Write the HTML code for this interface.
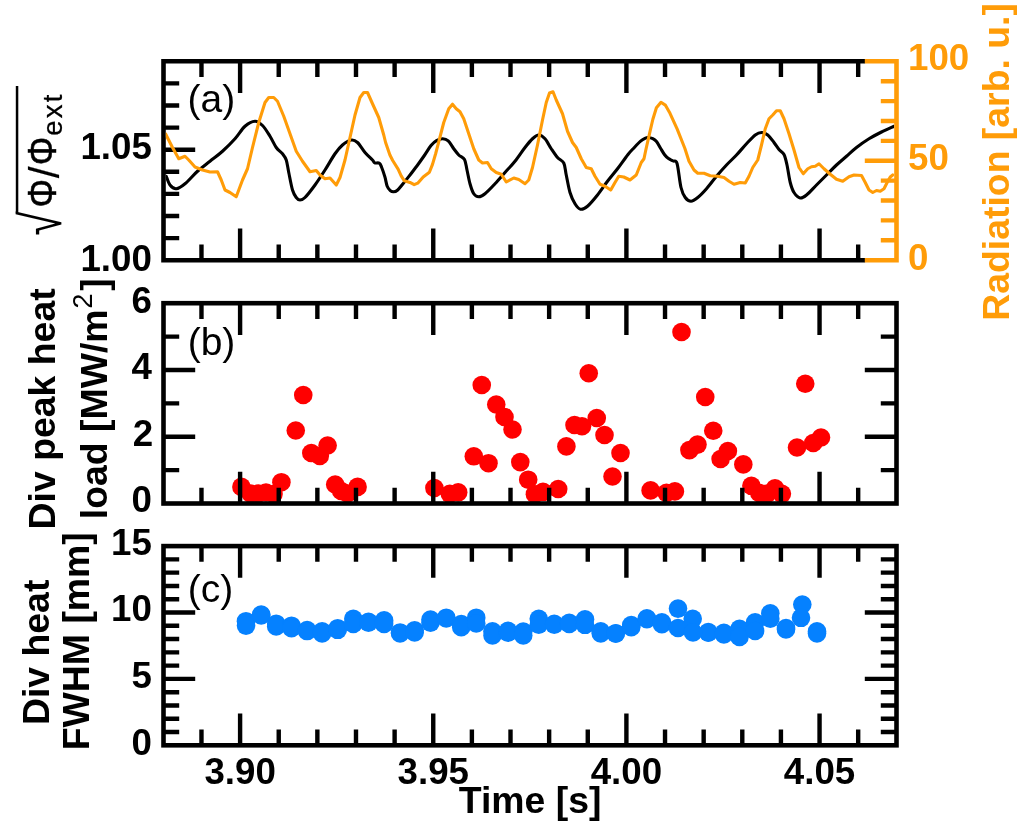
<!DOCTYPE html>
<html lang="en"><head><meta charset="utf-8"><title>Figure</title>
<style>html,body{margin:0;padding:0;background:#fff;overflow:hidden}svg{display:block}text{font-family:"Liberation Sans",Arial,sans-serif}.b{font-weight:bold;font-size:36.7px}.pl{font-size:40px}.pa{font-size:39px}.t{font-weight:bold;font-size:37.4px}</style></head><body>
<svg width="1025" height="831" viewBox="0 0 1025 831">
<rect width="1025" height="831" fill="#fff"/>
<clipPath id="ca"><rect x="165.80" y="61.30" width="728.40" height="198.90"/></clipPath>
<path d="M201.47 61.30v15.70M201.47 260.20v-15.70M240.10 61.30v31.70M240.10 260.20v-31.70M278.73 61.30v15.70M278.73 260.20v-15.70M317.36 61.30v15.70M317.36 260.20v-15.70M355.99 61.30v15.70M355.99 260.20v-15.70M394.62 61.30v15.70M394.62 260.20v-15.70M433.25 61.30v31.70M433.25 260.20v-31.70M471.88 61.30v15.70M471.88 260.20v-15.70M510.51 61.30v15.70M510.51 260.20v-15.70M549.14 61.30v15.70M549.14 260.20v-15.70M587.77 61.30v15.70M587.77 260.20v-15.70M626.40 61.30v31.70M626.40 260.20v-31.70M665.03 61.30v15.70M665.03 260.20v-15.70M703.66 61.30v15.70M703.66 260.20v-15.70M742.29 61.30v15.70M742.29 260.20v-15.70M780.92 61.30v15.70M780.92 260.20v-15.70M819.55 61.30v31.70M819.55 260.20v-31.70M858.18 61.30v15.70M858.18 260.20v-15.70" stroke="#000" stroke-width="4.4" fill="none"/>
<path d="M163.50 238.10h15.70M163.50 216.00h15.70M163.50 193.90h15.70M163.50 171.80h15.70M163.50 149.70h31.70M163.50 127.60h15.70M163.50 105.50h15.70M163.50 83.40h15.70" stroke="#000" stroke-width="4.4" fill="none"/>
<path d="M865.10 61.30H163.50V260.20H865.10" fill="none" stroke="#000" stroke-width="4.6" stroke-linejoin="miter"/>
<g clip-path="url(#ca)" fill="none" stroke-linejoin="round" stroke-linecap="round">
<path d="M166.25 176.25 C166.88 177.71 168.33 182.92 170.00 185.00 C171.67 187.08 173.75 188.96 176.25 188.75 C178.75 188.54 181.46 186.67 185.00 183.75 C188.54 180.83 193.33 175.00 197.50 171.25 C201.67 167.50 205.83 164.58 210.00 161.25 C214.17 157.92 218.33 155.00 222.50 151.25 C226.67 147.50 231.25 142.92 235.00 138.75 C238.75 134.58 241.67 129.17 245.00 126.25 C248.33 123.33 252.08 121.38 255.00 121.25 C257.92 121.12 260.00 123.00 262.50 125.50 C265.00 128.00 267.71 132.58 270.00 136.25 C272.29 139.92 274.17 144.58 276.25 147.50 C278.33 150.42 280.83 151.67 282.50 153.75 C284.17 155.83 285.21 156.88 286.25 160.00 C287.29 163.12 287.71 167.50 288.75 172.50 C289.79 177.50 291.25 185.83 292.50 190.00 C293.75 194.17 295.00 195.83 296.25 197.50 C297.50 199.17 298.54 200.00 300.00 200.00 C301.46 200.00 302.50 200.00 305.00 197.50 C307.50 195.00 311.67 189.58 315.00 185.00 C318.33 180.42 321.67 175.21 325.00 170.00 C328.33 164.79 332.08 157.92 335.00 153.75 C337.92 149.58 339.79 147.29 342.50 145.00 C345.21 142.71 348.75 140.42 351.25 140.00 C353.75 139.58 355.21 140.42 357.50 142.50 C359.79 144.58 362.50 149.58 365.00 152.50 C367.50 155.42 370.88 158.28 372.50 160.00 C374.12 161.72 373.55 162.27 374.70 162.80 C375.85 163.33 378.23 162.42 379.40 163.20 C380.57 163.98 380.78 165.22 381.70 167.50 C382.62 169.78 383.98 173.77 384.90 176.90 C385.82 180.03 386.30 184.02 387.20 186.30 C388.10 188.58 389.25 189.68 390.30 190.60 C391.35 191.52 392.32 191.87 393.50 191.80 C394.68 191.73 395.85 191.50 397.40 190.20 C398.95 188.90 400.85 186.35 402.80 184.00 C404.75 181.65 406.75 179.10 409.10 176.10 C411.45 173.10 414.30 169.52 416.90 166.00 C419.50 162.48 422.35 158.40 424.70 155.00 C427.05 151.60 429.03 148.00 431.00 145.60 C432.97 143.20 434.55 141.73 436.50 140.60 C438.45 139.47 440.75 138.75 442.70 138.80 C444.65 138.85 446.36 139.24 448.20 140.90 C450.04 142.56 451.99 146.40 453.75 148.75 C455.51 151.10 456.96 153.21 458.75 155.00 C460.54 156.79 463.12 157.00 464.50 159.50 C465.88 162.00 466.08 165.96 467.00 170.00 C467.92 174.04 468.88 179.79 470.00 183.75 C471.12 187.71 472.29 191.58 473.75 193.75 C475.21 195.92 476.88 196.75 478.75 196.75 C480.62 196.75 482.29 195.92 485.00 193.75 C487.71 191.58 491.67 187.29 495.00 183.75 C498.33 180.21 501.67 176.25 505.00 172.50 C508.33 168.75 511.67 165.42 515.00 161.25 C518.33 157.08 522.08 151.25 525.00 147.50 C527.92 143.75 530.21 140.83 532.50 138.75 C534.79 136.67 536.67 135.00 538.75 135.00 C540.83 135.00 542.92 136.46 545.00 138.75 C547.08 141.04 549.17 145.62 551.25 148.75 C553.33 151.88 555.42 155.12 557.50 157.50 C559.58 159.88 562.29 160.08 563.75 163.00 C565.21 165.92 565.21 170.08 566.25 175.00 C567.29 179.92 568.54 187.71 570.00 192.50 C571.46 197.29 573.25 200.96 575.00 203.75 C576.75 206.54 578.42 208.83 580.50 209.25 C582.58 209.67 584.67 208.62 587.50 206.25 C590.33 203.88 594.17 199.17 597.50 195.00 C600.83 190.83 604.17 185.62 607.50 181.25 C610.83 176.88 614.12 173.18 617.50 168.75 C620.88 164.32 625.03 158.21 627.80 154.70 C630.57 151.19 632.02 149.92 634.10 147.70 C636.18 145.48 638.48 142.97 640.30 141.40 C642.12 139.83 643.70 138.95 645.00 138.30 C646.30 137.65 646.80 137.43 648.10 137.50 C649.40 137.57 651.37 137.98 652.80 138.70 C654.23 139.42 655.38 140.17 656.70 141.80 C658.02 143.43 659.38 146.35 660.70 148.50 C662.02 150.65 663.30 153.02 664.60 154.70 C665.90 156.38 667.07 157.55 668.50 158.60 C669.93 159.65 671.77 160.15 673.20 161.00 C674.63 161.85 675.80 159.28 677.10 163.70 C678.40 168.12 679.64 181.87 681.00 187.50 C682.36 193.13 683.58 195.21 685.25 197.50 C686.92 199.79 688.92 201.25 691.00 201.25 C693.08 201.25 695.17 199.58 697.75 197.50 C700.33 195.42 703.38 192.29 706.50 188.75 C709.62 185.21 713.17 180.21 716.50 176.25 C719.83 172.29 723.17 168.54 726.50 165.00 C729.83 161.46 733.17 158.54 736.50 155.00 C739.83 151.46 743.38 147.08 746.50 143.75 C749.62 140.42 752.75 136.88 755.25 135.00 C757.75 133.12 759.42 132.50 761.50 132.50 C763.58 132.50 765.67 133.33 767.75 135.00 C769.83 136.67 772.12 140.08 774.00 142.50 C775.88 144.92 777.33 147.50 779.00 149.50 C780.67 151.50 782.67 151.92 784.00 154.50 C785.33 157.08 785.96 160.33 787.00 165.00 C788.04 169.67 789.08 177.92 790.25 182.50 C791.42 187.08 792.33 189.92 794.00 192.50 C795.67 195.08 798.17 197.58 800.25 198.00 C802.33 198.42 803.79 197.17 806.50 195.00 C809.21 192.83 813.17 188.33 816.50 185.00 C819.83 181.67 823.17 178.33 826.50 175.00 C829.83 171.67 833.17 168.12 836.50 165.00 C839.83 161.88 843.17 159.17 846.50 156.25 C849.83 153.33 852.75 150.42 856.50 147.50 C860.25 144.58 864.83 141.33 869.00 138.75 C873.17 136.17 877.33 134.08 881.50 132.00 C885.67 129.92 891.92 127.21 894.00 126.25" stroke="#000" stroke-width="3.1"/>
<path d="M165.50 133.75 L172.50 147.50 L178.75 158.75 L185.00 156.25 L188.75 160.00 L195.00 167.00 L202.50 170.00 L210.00 172.00 L217.50 171.75 L221.25 180.00 L225.00 190.00 L230.00 192.50 L236.25 196.75 L242.50 180.00 L247.50 168.75 L252.50 147.50 L258.75 122.50 L265.00 102.50 L268.75 97.50 L273.75 97.50 L277.50 101.25 L283.75 116.25 L290.00 133.75 L296.25 151.25 L302.50 161.25 L310.00 171.75 L316.25 170.50 L320.00 175.00 L325.00 178.75 L330.00 178.00 L336.25 185.00 L340.00 177.50 L345.00 160.00 L350.00 137.50 L355.00 115.00 L360.00 97.50 L363.75 92.50 L367.50 92.50 L372.50 103.75 L378.75 117.50 L383.75 135.00 L385.60 142.50 L389.90 155.00 L392.70 160.50 L398.10 169.10 L401.30 176.10 L404.40 180.80 L409.90 182.40 L414.20 184.70 L417.70 183.20 L423.20 176.90 L429.40 172.20 L432.50 164.40 L435.70 153.50 L438.80 141.70 L443.75 122.50 L448.75 108.75 L452.50 104.25 L456.25 108.75 L460.00 111.75 L463.75 118.75 L468.75 133.75 L473.75 148.75 L478.75 160.00 L482.50 163.00 L487.50 162.50 L491.25 168.75 L496.25 172.50 L501.25 174.25 L506.25 182.00 L513.75 178.00 L518.75 179.50 L525.00 183.75 L528.75 180.00 L532.50 167.50 L537.50 145.00 L542.50 120.00 L546.25 102.50 L549.50 93.00 L553.00 91.75 L556.25 100.00 L562.50 113.75 L567.50 131.25 L572.50 142.50 L576.25 147.50 L581.25 158.75 L586.25 167.50 L591.25 168.75 L595.00 176.25 L600.00 184.25 L605.00 186.25 L610.75 190.00 L615.00 182.50 L618.75 176.25 L623.75 177.00 L630.00 180.00 L636.25 175.00 L641.25 162.50 L644.00 158.75 L645.80 150.00 L649.70 132.80 L652.80 119.50 L656.40 107.80 L661.00 102.30 L665.30 105.10 L670.00 113.30 L677.10 128.90 L684.90 148.50 L689.00 161.25 L694.00 170.00 L697.75 173.25 L704.00 173.25 L710.25 175.75 L717.75 176.25 L724.00 177.50 L729.00 181.25 L734.00 184.25 L740.25 182.50 L745.25 183.00 L749.00 176.25 L752.75 167.50 L757.75 160.00 L761.50 145.00 L765.25 128.75 L769.00 118.75 L772.75 115.00 L776.50 110.75 L780.25 110.75 L784.00 118.75 L789.00 133.75 L794.00 150.00 L799.00 167.50 L803.25 173.75 L807.75 168.75 L811.50 166.75 L815.25 166.25 L819.00 163.75 L824.00 168.75 L830.25 174.25 L836.50 179.25 L842.75 181.25 L849.00 176.75 L854.00 175.00 L861.50 175.50 L865.25 182.50 L869.00 190.00 L872.75 192.50 L876.50 190.50 L880.25 191.25 L884.00 188.75 L887.75 181.25 L890.25 177.00 L892.75 175.00" stroke="#FF9C08" stroke-width="3.1"/>
</g>
<path d="M896.50 240.31h-15.70M896.50 220.42h-15.70M896.50 200.53h-15.70M896.50 180.64h-15.70M896.50 160.75h-31.70M896.50 140.86h-15.70M896.50 120.97h-15.70M896.50 101.08h-15.70M896.50 81.19h-15.70" stroke="#FF9C08" stroke-width="4.4" fill="none"/>
<path d="M864.80 61.30H896.50V260.20H864.80" fill="none" stroke="#FF9C08" stroke-width="4.6" stroke-linejoin="miter"/>
<g fill="#FF0000">
<circle cx="241.40" cy="486.90" r="9.3"/>
<circle cx="250.50" cy="493.50" r="9.3"/>
<circle cx="258.50" cy="493.50" r="9.3"/>
<circle cx="266.00" cy="492.50" r="9.3"/>
<circle cx="273.50" cy="494.00" r="9.3"/>
<circle cx="281.40" cy="482.20" r="9.3"/>
<circle cx="295.75" cy="430.50" r="9.3"/>
<circle cx="303.25" cy="395.00" r="9.3"/>
<circle cx="311.30" cy="453.00" r="9.3"/>
<circle cx="319.80" cy="456.00" r="9.3"/>
<circle cx="327.60" cy="445.50" r="9.3"/>
<circle cx="335.20" cy="484.50" r="9.3"/>
<circle cx="341.20" cy="491.00" r="9.3"/>
<circle cx="347.50" cy="493.50" r="9.3"/>
<circle cx="357.60" cy="486.90" r="9.3"/>
<circle cx="434.40" cy="488.00" r="9.3"/>
<circle cx="449.80" cy="493.80" r="9.3"/>
<circle cx="458.20" cy="492.40" r="9.3"/>
<circle cx="473.80" cy="456.30" r="9.3"/>
<circle cx="488.50" cy="463.20" r="9.3"/>
<circle cx="481.75" cy="385.00" r="9.3"/>
<circle cx="496.25" cy="404.50" r="9.3"/>
<circle cx="504.50" cy="417.00" r="9.3"/>
<circle cx="512.50" cy="429.50" r="9.3"/>
<circle cx="520.30" cy="462.10" r="9.3"/>
<circle cx="528.20" cy="479.70" r="9.3"/>
<circle cx="534.90" cy="494.20" r="9.3"/>
<circle cx="543.00" cy="491.80" r="9.3"/>
<circle cx="558.20" cy="489.00" r="9.3"/>
<circle cx="566.40" cy="446.40" r="9.3"/>
<circle cx="574.50" cy="425.00" r="9.3"/>
<circle cx="582.00" cy="426.25" r="9.3"/>
<circle cx="588.75" cy="373.25" r="9.3"/>
<circle cx="596.75" cy="418.00" r="9.3"/>
<circle cx="604.50" cy="435.00" r="9.3"/>
<circle cx="620.50" cy="453.00" r="9.3"/>
<circle cx="612.50" cy="476.50" r="9.3"/>
<circle cx="650.60" cy="490.40" r="9.3"/>
<circle cx="666.50" cy="492.80" r="9.3"/>
<circle cx="674.90" cy="491.40" r="9.3"/>
<circle cx="681.50" cy="332.00" r="9.3"/>
<circle cx="689.40" cy="450.10" r="9.3"/>
<circle cx="697.50" cy="444.60" r="9.3"/>
<circle cx="705.25" cy="397.00" r="9.3"/>
<circle cx="713.25" cy="430.75" r="9.3"/>
<circle cx="720.60" cy="459.00" r="9.3"/>
<circle cx="727.90" cy="451.00" r="9.3"/>
<circle cx="743.30" cy="464.40" r="9.3"/>
<circle cx="751.40" cy="485.80" r="9.3"/>
<circle cx="759.30" cy="493.00" r="9.3"/>
<circle cx="767.00" cy="493.80" r="9.3"/>
<circle cx="775.00" cy="488.40" r="9.3"/>
<circle cx="781.90" cy="493.80" r="9.3"/>
<circle cx="797.00" cy="447.50" r="9.3"/>
<circle cx="805.25" cy="383.75" r="9.3"/>
<circle cx="813.25" cy="443.00" r="9.3"/>
<circle cx="821.00" cy="437.50" r="9.3"/>
</g>
<path d="M201.47 303.20v15.70M201.47 503.50v-15.70M240.10 303.20v31.70M240.10 503.50v-31.70M278.73 303.20v15.70M278.73 503.50v-15.70M317.36 303.20v15.70M317.36 503.50v-15.70M355.99 303.20v15.70M355.99 503.50v-15.70M394.62 303.20v15.70M394.62 503.50v-15.70M433.25 303.20v31.70M433.25 503.50v-31.70M471.88 303.20v15.70M471.88 503.50v-15.70M510.51 303.20v15.70M510.51 503.50v-15.70M549.14 303.20v15.70M549.14 503.50v-15.70M587.77 303.20v15.70M587.77 503.50v-15.70M626.40 303.20v31.70M626.40 503.50v-31.70M665.03 303.20v15.70M665.03 503.50v-15.70M703.66 303.20v15.70M703.66 503.50v-15.70M742.29 303.20v15.70M742.29 503.50v-15.70M780.92 303.20v15.70M780.92 503.50v-15.70M819.55 303.20v31.70M819.55 503.50v-31.70M858.18 303.20v15.70M858.18 503.50v-15.70" stroke="#000" stroke-width="4.4" fill="none"/>
<path d="M163.50 470.12h15.70M896.50 470.12h-15.70M163.50 436.73h31.70M896.50 436.73h-31.70M163.50 403.35h15.70M896.50 403.35h-15.70M163.50 369.97h31.70M896.50 369.97h-31.70M163.50 336.58h15.70M896.50 336.58h-15.70" stroke="#000" stroke-width="4.4" fill="none"/>
<rect x="163.50" y="303.20" width="733.00" height="200.30" fill="none" stroke="#000" stroke-width="4.6"/>
<g fill="#0581FF">
<circle cx="246.00" cy="621.20" r="9.3"/>
<circle cx="246.00" cy="625.60" r="9.3"/>
<circle cx="261.20" cy="614.55" r="9.3"/>
<circle cx="261.20" cy="615.45" r="9.3"/>
<circle cx="276.20" cy="623.70" r="9.3"/>
<circle cx="276.20" cy="626.50" r="9.3"/>
<circle cx="291.50" cy="625.70" r="9.3"/>
<circle cx="291.50" cy="628.10" r="9.3"/>
<circle cx="307.10" cy="630.15" r="9.3"/>
<circle cx="307.10" cy="631.05" r="9.3"/>
<circle cx="322.10" cy="631.40" r="9.3"/>
<circle cx="322.10" cy="633.40" r="9.3"/>
<circle cx="337.70" cy="628.20" r="9.3"/>
<circle cx="337.70" cy="629.80" r="9.3"/>
<circle cx="353.30" cy="618.80" r="9.3"/>
<circle cx="353.30" cy="624.00" r="9.3"/>
<circle cx="368.50" cy="621.75" r="9.3"/>
<circle cx="368.50" cy="622.65" r="9.3"/>
<circle cx="384.10" cy="620.40" r="9.3"/>
<circle cx="384.10" cy="624.00" r="9.3"/>
<circle cx="400.10" cy="632.45" r="9.3"/>
<circle cx="400.10" cy="633.35" r="9.3"/>
<circle cx="414.60" cy="630.40" r="9.3"/>
<circle cx="414.60" cy="632.40" r="9.3"/>
<circle cx="430.50" cy="619.50" r="9.3"/>
<circle cx="430.50" cy="622.70" r="9.3"/>
<circle cx="446.25" cy="617.70" r="9.3"/>
<circle cx="446.25" cy="618.50" r="9.3"/>
<circle cx="461.25" cy="624.00" r="9.3"/>
<circle cx="461.25" cy="627.20" r="9.3"/>
<circle cx="476.25" cy="617.70" r="9.3"/>
<circle cx="476.25" cy="623.50" r="9.3"/>
<circle cx="492.50" cy="631.30" r="9.3"/>
<circle cx="492.50" cy="635.50" r="9.3"/>
<circle cx="508.00" cy="630.75" r="9.3"/>
<circle cx="508.00" cy="632.75" r="9.3"/>
<circle cx="523.25" cy="631.50" r="9.3"/>
<circle cx="523.25" cy="635.50" r="9.3"/>
<circle cx="538.75" cy="618.75" r="9.3"/>
<circle cx="538.75" cy="624.75" r="9.3"/>
<circle cx="554.25" cy="623.75" r="9.3"/>
<circle cx="554.25" cy="624.75" r="9.3"/>
<circle cx="569.25" cy="622.80" r="9.3"/>
<circle cx="569.25" cy="624.00" r="9.3"/>
<circle cx="585.00" cy="619.40" r="9.3"/>
<circle cx="585.00" cy="624.80" r="9.3"/>
<circle cx="600.75" cy="631.30" r="9.3"/>
<circle cx="600.75" cy="633.50" r="9.3"/>
<circle cx="615.75" cy="633.20" r="9.3"/>
<circle cx="615.75" cy="633.60" r="9.3"/>
<circle cx="631.25" cy="625.00" r="9.3"/>
<circle cx="631.25" cy="627.20" r="9.3"/>
<circle cx="646.90" cy="618.40" r="9.3"/>
<circle cx="646.90" cy="619.20" r="9.3"/>
<circle cx="661.90" cy="622.30" r="9.3"/>
<circle cx="661.90" cy="624.10" r="9.3"/>
<circle cx="708.30" cy="632.10" r="9.3"/>
<circle cx="708.30" cy="632.70" r="9.3"/>
<circle cx="723.90" cy="632.80" r="9.3"/>
<circle cx="723.90" cy="634.40" r="9.3"/>
<circle cx="739.50" cy="628.90" r="9.3"/>
<circle cx="739.50" cy="636.90" r="9.3"/>
<circle cx="755.10" cy="622.40" r="9.3"/>
<circle cx="755.10" cy="631.00" r="9.3"/>
<circle cx="770.30" cy="613.30" r="9.3"/>
<circle cx="770.30" cy="618.70" r="9.3"/>
<circle cx="786.00" cy="628.10" r="9.3"/>
<circle cx="786.00" cy="629.50" r="9.3"/>
<circle cx="817.00" cy="631.40" r="9.3"/>
<circle cx="817.00" cy="633.40" r="9.3"/>
<circle cx="678.00" cy="608.60" r="9.3"/>
<circle cx="678.00" cy="628.00" r="9.3"/>
<circle cx="692.70" cy="618.80" r="9.3"/>
<circle cx="693.00" cy="632.40" r="9.3"/>
<circle cx="802.30" cy="604.50" r="9.3"/>
<circle cx="801.00" cy="617.80" r="9.3"/>
</g>
<path d="M201.47 546.10v15.70M201.47 745.30v-15.70M240.10 546.10v31.70M240.10 745.30v-31.70M278.73 546.10v15.70M278.73 745.30v-15.70M317.36 546.10v15.70M317.36 745.30v-15.70M355.99 546.10v15.70M355.99 745.30v-15.70M394.62 546.10v15.70M394.62 745.30v-15.70M433.25 546.10v31.70M433.25 745.30v-31.70M471.88 546.10v15.70M471.88 745.30v-15.70M510.51 546.10v15.70M510.51 745.30v-15.70M549.14 546.10v15.70M549.14 745.30v-15.70M587.77 546.10v15.70M587.77 745.30v-15.70M626.40 546.10v31.70M626.40 745.30v-31.70M665.03 546.10v15.70M665.03 745.30v-15.70M703.66 546.10v15.70M703.66 745.30v-15.70M742.29 546.10v15.70M742.29 745.30v-15.70M780.92 546.10v15.70M780.92 745.30v-15.70M819.55 546.10v31.70M819.55 745.30v-31.70M858.18 546.10v15.70M858.18 745.30v-15.70" stroke="#000" stroke-width="4.4" fill="none"/>
<path d="M163.50 732.02h15.70M896.50 732.02h-15.70M163.50 718.74h15.70M896.50 718.74h-15.70M163.50 705.46h15.70M896.50 705.46h-15.70M163.50 692.18h15.70M896.50 692.18h-15.70M163.50 678.90h31.70M896.50 678.90h-31.70M163.50 665.62h15.70M896.50 665.62h-15.70M163.50 652.34h15.70M896.50 652.34h-15.70M163.50 639.06h15.70M896.50 639.06h-15.70M163.50 625.78h15.70M896.50 625.78h-15.70M163.50 612.50h31.70M896.50 612.50h-31.70M163.50 599.22h15.70M896.50 599.22h-15.70M163.50 585.94h15.70M896.50 585.94h-15.70M163.50 572.66h15.70M896.50 572.66h-15.70M163.50 559.38h15.70M896.50 559.38h-15.70" stroke="#000" stroke-width="4.4" fill="none"/>
<rect x="163.50" y="546.10" width="733.00" height="199.20" fill="none" stroke="#000" stroke-width="4.6"/>
<text class="b" transform="translate(151.80 158.70) scale(1 1.02)" text-anchor="end">1.05</text>
<text class="b" transform="translate(151.80 271.00) scale(1 1.02)" text-anchor="end">1.00</text>
<text class="b" transform="translate(151.80 512.20) scale(1 1.02)" text-anchor="end">0</text>
<text class="b" transform="translate(153.20 445.73) scale(1 1.02)" text-anchor="end">2</text>
<text class="b" transform="translate(151.80 379.27) scale(1 1.02)" text-anchor="end">4</text>
<text class="b" transform="translate(151.80 313.20) scale(1 1.02)" text-anchor="end">6</text>
<text class="b" transform="translate(151.80 755.10) scale(1 1.02)" text-anchor="end">0</text>
<text class="b" transform="translate(151.80 688.10) scale(1 1.02)" text-anchor="end">5</text>
<text class="b" transform="translate(151.80 621.30) scale(1 1.02)" text-anchor="end">10</text>
<text class="b" transform="translate(151.80 554.80) scale(1 1.02)" text-anchor="end">15</text>
<text class="b" transform="translate(908 270.20) scale(1 1.02)" fill="#FF9C08">0</text>
<text class="b" transform="translate(908 169.95) scale(1 1.02)" fill="#FF9C08">50</text>
<text class="b" transform="translate(908 70.00) scale(1 1.02)" fill="#FF9C08">100</text>
<text class="b" transform="translate(240.10 783.7) scale(1 1.02)" text-anchor="middle">3.90</text>
<text class="b" transform="translate(433.25 783.7) scale(1 1.02)" text-anchor="middle">3.95</text>
<text class="b" transform="translate(626.40 783.7) scale(1 1.02)" text-anchor="middle">4.00</text>
<text class="b" transform="translate(819.55 783.7) scale(1 1.02)" text-anchor="middle">4.05</text>
<text class="t" x="530.10" y="812.5" text-anchor="middle">Time [s]</text>
<text class="pa" x="187.5" y="111.7">(a)</text>
<text class="pa" x="187.7" y="354.8">(b)</text>
<text class="pa" x="187.7" y="602.1">(c)</text>
<text class="t" transform="translate(1009.00 161.95) rotate(-90)" text-anchor="middle" fill="#FF9C08">Radiation [arb. u.]</text>
<text class="t" transform="translate(55.00 408.90) rotate(-90)" text-anchor="middle" >Div peak heat</text>
<text class="t" transform="translate(106.90 398.75) rotate(-90)" text-anchor="middle" >load [MW/m<tspan dy="-15.3" dx="0.7" font-size="27.5" font-weight="normal">2</tspan><tspan dy="15.3" dx="2.6">]</tspan></text>
<text class="t" transform="translate(48.50 652.35) rotate(-90)" text-anchor="middle" >Div heat</text>
<text class="t" transform="translate(89.00 641.25) rotate(-90)" text-anchor="middle" >FWHM [mm]</text>
<text transform="translate(56.1 0) rotate(-90)" font-size="40.4" stroke="#000" stroke-width="0.45"><tspan x="-235.5" dy="5.1" font-size="57.4" textLength="24.04" lengthAdjust="spacingAndGlyphs" stroke-width="0">√</tspan><tspan x="-207.55" dy="-5.1" textLength="28.6" lengthAdjust="spacingAndGlyphs">Φ</tspan><tspan x="-178.3" dy="3.1" font-size="42.5" stroke-width="0.2">/</tspan><tspan x="-165.15" dy="-3.1" textLength="28.6" lengthAdjust="spacingAndGlyphs">Φ</tspan><tspan x="-135.7" dy="5.7" font-size="27.5" letter-spacing="2.2" stroke-width="0.25">ext</tspan></text>
<path d="M17.05 86V212.6" fill="none" stroke="#000" stroke-width="2.5"/>
</svg></body></html>
